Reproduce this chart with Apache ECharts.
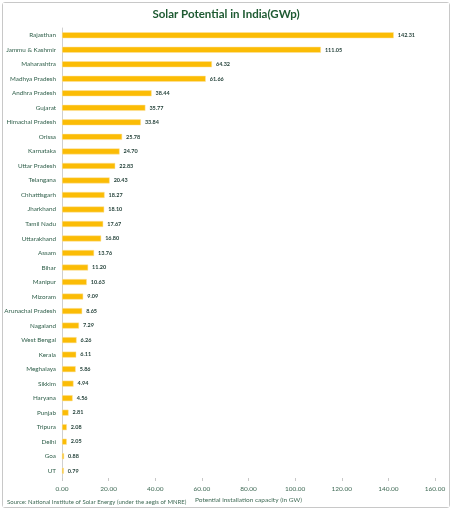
<!DOCTYPE html>
<html>
<head>
<meta charset="utf-8">
<script src="https://cdn.jsdelivr.net/npm/echarts@6/dist/echarts.min.js"></script>
<style>
html,body{margin:0;padding:0;background:#fff;}
#chart{position:absolute;left:2px;top:2px;width:448px;height:506px;border:1px solid #c8c8c8;border-radius:3px;box-sizing:border-box;}
</style>
</head>
<body>
<div id="chart"></div>
<script>
// states, top to bottom
var states = ['Rajasthan','Jammu & Kashmir','Maharashtra','Madhya Pradesh','Andhra Pradesh','Gujarat','Himachal Pradesh','Orissa','Karnataka','Uttar Pradesh','Telangana','Chhattisgarh','Jharkhand','Tamil Nadu','Uttarakhand','Assam','Bihar','Manipur','Mizoram','Arunachal Pradesh','Nagaland','West Bengal','Kerala','Meghalaya','Sikkim','Haryana','Punjab','Tripura','Delhi','Goa','UT'];
var potential = [142.31,111.05,64.32,61.66,38.44,35.77,33.84,25.78,24.70,22.83,20.43,18.27,18.10,17.67,16.80,13.76,11.20,10.63,9.09,8.65,7.29,6.26,6.11,5.86,4.94,4.56,2.81,2.08,2.05,0.88,0.79];
var xTicks = [0,20,40,60,80,100,120,140,160];

var myChart = echarts.init(document.getElementById('chart'));
var font = 'Lato, "Open Sans", sans-serif';
var option = {
	backgroundColor:'#fff',
	textStyle:{fontFamily:font},
	title:{
		text:'Solar Potential in India(GWp)',
		left:'center',
		top:0,
		textStyle:{fontSize:11.5,fontWeight:'bold',color:'#1e5a32',fontFamily:font}
	},
	grid:{left:59,right:14,top:25,bottom:29,outerBoundsMode:'none',containLabel:false},
	xAxis:{
		type:'value',
		min:xTicks[0],
		max:xTicks[xTicks.length-1],
		interval:20,
		name:'Potential installation capacity (in GW)',
		nameLocation:'middle',
		nameGap:18,
		nameTextStyle:{fontSize:6.5,color:'#3f6a55'},
		axisLine:{show:false},
		axisTick:{show:true,length:3,lineStyle:{color:'#c8c8c8'}},
		splitLine:{show:false},
		axisLabel:{fontSize:6.5,color:'#3f6a55',margin:7,formatter:function(v){return v.toFixed(2);}}
	},
	yAxis:{
		type:'category',
		data:states,
		inverse:true,
		axisLine:{lineStyle:{color:'#d0d0d0'}},
		axisTick:{show:false},
		axisLabel:{fontSize:6.3,color:'#2f5f4a',margin:6}
	},
	series:[{
		type:'bar',
		data:potential,
		barWidth:6,
		itemStyle:{color:'#fbbc05',borderColor:'#fde3a0',borderWidth:0.5},
		label:{
			show:true,
			position:'right',
			distance:4,
			fontSize:5.5,
			fontWeight:'bold',
			color:'#1f3d35',
			formatter:function(p){return p.value.toFixed(2);}
		}
	}],
	graphic:[{
		type:'text',
		left:4,
		bottom:2,
		style:{text:'Source: National Institute of Solar Energy (under the aegis of MNRE)',fontSize:6,fill:'#3f6a55',fontFamily:font}
	}]
};
myChart.setOption(option);
</script>
</body>
</html>
